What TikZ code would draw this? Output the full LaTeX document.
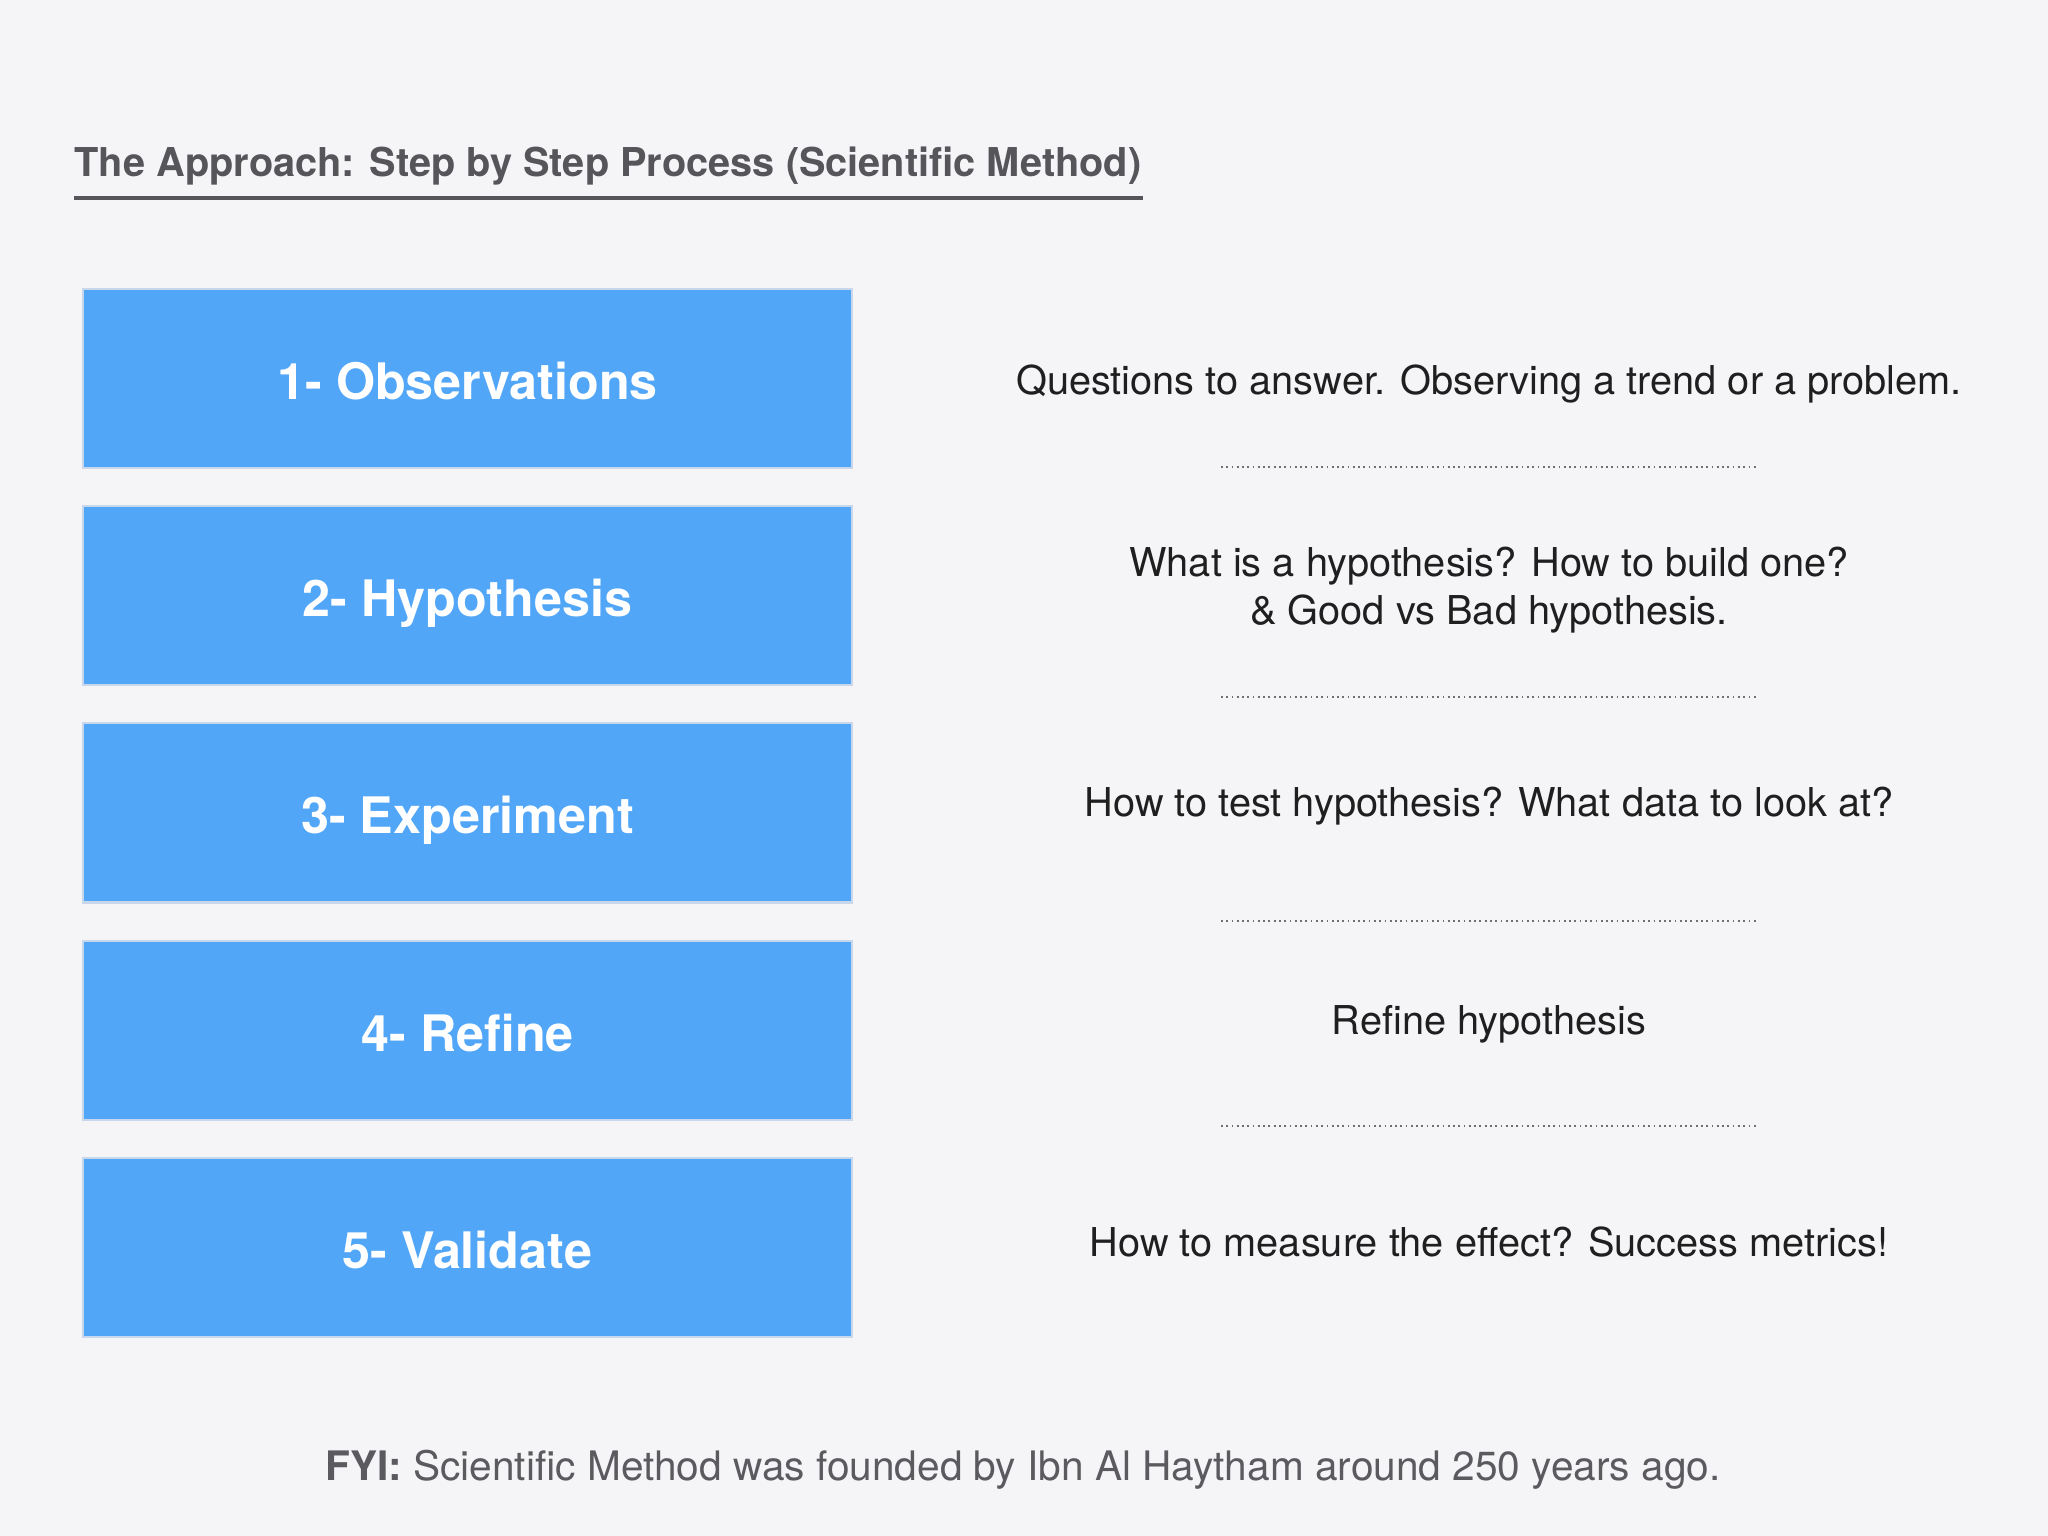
\documentclass[tikz,border=0pt]{standalone}
\usepackage{fontspec}
\setmainfont{TeX Gyre Heros}
\usetikzlibrary{positioning}

\definecolor{pagebg}{RGB}{245,245,247}
\definecolor{stepblue}{RGB}{81,166,247}
\definecolor{stepedge}{RGB}{200,215,235}
\definecolor{headgray}{RGB}{85,85,90}
\definecolor{notegray}{RGB}{90,90,95}
\definecolor{dotgray}{RGB}{110,110,115}

\tikzset{
    stepbox/.style={draw=stepedge, line width=0.6pt, fill=stepblue, text=white,
        minimum width=7.68cm, minimum height=1.79cm, inner sep=0pt,
        text height=0.42cm, text depth=0pt,
        font=\fontsize{14.3}{17}\selectfont\bfseries},
    notetext/.style={text=black!88, align=center, font=\fontsize{11.3}{13.7}\selectfont},
    sepline/.style={dotgray, line width=0.5pt, dash pattern=on 0.5pt off 1pt}
}

\begin{document}
\begin{tikzpicture}[x=0.01cm,y=-0.01cm]
                \useasboundingbox (0,0) rectangle (2048,1536);
                \fill[pagebg] (0,0) rectangle (2048,1536);
                % heading
                \node[anchor=base west, inner sep=0pt, text=headgray, font=\fontsize{11.3}{14}\selectfont\bfseries] (head) at (74,176) {The Approach: Step by Step Process (Scientific Method)};
                \draw[headgray, line width=0.9pt] (74,198) -- (1143,198);
                % steps
                \node[stepbox] (obs) at (467.5,378.5) {1- Observations};
                \node[stepbox, below=0.36cm of obs] (hyp) {2- Hypothesis};
                \node[stepbox, below=0.36cm of hyp] (exper) {3- Experiment};
                \node[stepbox, below=0.36cm of exper] (refine) {4- Refine};
                \node[stepbox, below=0.36cm of refine] (valid) {5- Validate};
                % notes
                \node[notetext] (obsnote) at (1489,384) {Questions to answer. Observing a trend or a problem.};
                \node[notetext] (hypnote) at (1489,590) {What is a hypothesis? How to build one?\\\& Good vs Bad hypothesis.};
                \node[notetext] (expnote) at (1489,806) {How to test hypothesis? What data to look at?};
                \node[notetext] (refnote) at (1489,1024) {Refine hypothesis};
                \node[notetext] (valnote) at (1489,1242) {How to measure the effect? Success metrics!};
                % separators
                \draw[sepline] (1221,467) -- (1757,467);
                \draw[sepline] (1221,697) -- (1757,697);
                \draw[sepline] (1221,921) -- (1757,921);
                \draw[sepline] (1221,1126) -- (1757,1126);
                % footnote
                \node[text=notegray, font=\fontsize{11.55}{14}\selectfont] (fyi) at (1023,1470) {\textbf{FYI:} Scientific Method was founded by Ibn Al Haytham around 250 years ago.};
            \end{tikzpicture}
\end{document}
